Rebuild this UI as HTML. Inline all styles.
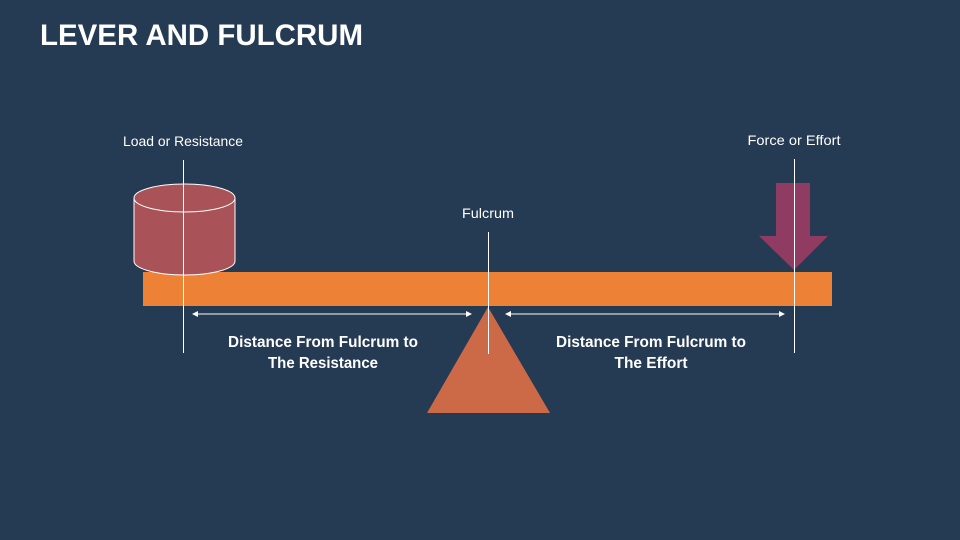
<!DOCTYPE html>
<html><head><meta charset="utf-8"><style>
html,body{margin:0;padding:0;background:#253a53;}
svg{display:block;}
text{font-family:"Liberation Sans",sans-serif;fill:#fff;}
</style></head><body>
<svg width="960" height="540" viewBox="0 0 960 540" xmlns="http://www.w3.org/2000/svg">
<rect width="960" height="540" fill="#253a53"/>
<text x="40" y="45" font-size="30" font-weight="bold" textLength="323" lengthAdjust="spacingAndGlyphs">LEVER AND FULCRUM</text>
<text x="183" y="146" font-size="14" text-anchor="middle" textLength="120" lengthAdjust="spacingAndGlyphs">Load or Resistance</text>
<text x="794" y="145" font-size="14" text-anchor="middle" textLength="93" lengthAdjust="spacingAndGlyphs">Force or Effort</text>
<text x="488" y="218" font-size="14" text-anchor="middle" textLength="52" lengthAdjust="spacingAndGlyphs">Fulcrum</text>
<!-- bar -->
<rect x="143" y="272" width="689" height="34" fill="#ed8237"/>
<!-- cylinder -->
<path d="M134,198 L134,261 A50.5,14 0 0 0 235,261 L235,198 Z" fill="#a95257" stroke="#fff" stroke-width="1"/>
<ellipse cx="184.5" cy="198" rx="50.5" ry="14" fill="#a95257" stroke="#fff" stroke-width="1"/>
<!-- triangle -->
<polygon points="488,307 550,413 427,413" fill="#cc6a47"/>
<!-- effort arrow -->
<polygon points="776,183 810,183 810,236 828,236 794,270 759,236 776,236" fill="#8f3b62"/>
<!-- vertical lines -->
<line x1="183.5" y1="160" x2="183.5" y2="353" stroke="#fff" stroke-width="1"/>
<line x1="488.5" y1="232" x2="488.5" y2="354" stroke="#fff" stroke-width="1"/>
<line x1="794.5" y1="159" x2="794.5" y2="353" stroke="#fff" stroke-width="1"/>
<!-- distance arrows -->
<g stroke="#fff" stroke-width="1">
<line x1="195" y1="314" x2="469" y2="314"/>
<line x1="508" y1="314" x2="782" y2="314"/>
</g>
<g fill="#fff">
<polygon points="192,314 198,311 198,317"/>
<polygon points="472,314 466,311 466,317"/>
<polygon points="505,314 511,311 511,317"/>
<polygon points="785,314 779,311 779,317"/>
</g>
<text x="323" y="347" font-size="16" font-weight="bold" text-anchor="middle" textLength="190" lengthAdjust="spacingAndGlyphs">Distance From Fulcrum to</text>
<text x="323" y="368" font-size="16" font-weight="bold" text-anchor="middle" textLength="110" lengthAdjust="spacingAndGlyphs">The Resistance</text>
<text x="651" y="347" font-size="16" font-weight="bold" text-anchor="middle" textLength="190" lengthAdjust="spacingAndGlyphs">Distance From Fulcrum to</text>
<text x="651" y="368" font-size="16" font-weight="bold" text-anchor="middle" textLength="73" lengthAdjust="spacingAndGlyphs">The Effort</text>
</svg>
</body></html>
